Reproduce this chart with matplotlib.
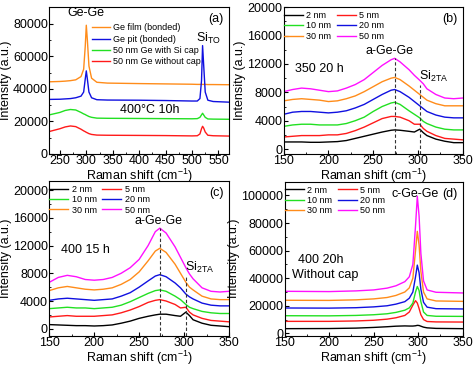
import matplotlib
matplotlib.use("Agg")
import matplotlib.pyplot as plt
from matplotlib.ticker import MultipleLocator

plt.rcParams['font.family'] = ['Liberation Sans', 'DejaVu Sans']
plt.rcParams['mathtext.fontset'] = 'custom'
plt.rcParams['mathtext.rm'] = 'Liberation Sans'
plt.rcParams['mathtext.it'] = 'Liberation Sans'
plt.rcParams['mathtext.default'] = 'regular'

# ---------------- data ----------------
# panel (a)
xa = [230, 250, 260, 270, 280, 290, 295, 298, 300, 302, 305, 310, 320, 340, 400,
      450, 500, 510, 515, 518, 520, 522, 525, 530, 540, 570]
a_film = [44300, 44500, 44700, 45000, 45500, 47500, 52000, 66000, 79000, 70000, 54000,
          46500, 44000, 43500, 43200, 43000, 42800, 42700, 42700, 42700, 42700, 42700,
          42700, 42600, 42600, 42500]
a_pit = [33500, 33600, 33800, 34000, 34500, 35500, 38000, 46000, 51000, 46000, 38000,
         34500, 33300, 33100, 33000, 32800, 32500, 32500, 34000, 45000, 66500, 55000,
         38000, 33000, 32200, 31800]
a_cap = [24000, 25500, 26700, 27300, 27000, 25500, 24600, 24200, 23800, 23500, 23000,
         22500, 22000, 21900, 21800, 21700, 21600, 21700, 22500, 24000, 25000, 24000,
         22500, 21500, 21400, 21300]
a_nocap = [13800, 15500, 16600, 17200, 16800, 15200, 14200, 13700, 13300, 13000, 12500,
           12000, 11600, 11500, 11400, 11300, 11100, 11200, 12300, 15500, 17000, 16000,
           13500, 11500, 11200, 11000]
a_labels = ['Ge film (bonded)', 'Ge pit (bonded)', '50 nm Ge with Si cap',
            '50 nm Ge without cap']

# panel (b)
xb = [150, 160, 170, 180, 190, 200, 210, 220, 230, 240, 250, 260, 270, 274, 280, 290,
      296, 302, 306, 310, 320, 330, 340, 350]
b_2 = [1000, 1000, 1000, 950, 950, 1000, 1050, 1200, 1500, 1800, 2100, 2400, 2650, 2700,
       2650, 2500, 2400, 2800, 2300, 1900, 1400, 1100, 900, 900]
b_5 = [1700, 1800, 1900, 1900, 1900, 2000, 2000, 2200, 2600, 3100, 3700, 4300, 4600, 4600,
       4500, 4000, 3500, 3500, 2900, 2500, 1900, 1500, 1400, 1300]
b_10 = [3200, 3400, 3500, 3500, 3400, 3400, 3400, 3600, 4000, 4500, 5300, 6000, 6500, 6600,
        6300, 5400, 4900, 4400, 3900, 3600, 3100, 2800, 2700, 2700]
b_20 = [4900, 5200, 5300, 5300, 5200, 5100, 5200, 5400, 5800, 6300, 7000, 7700, 8300, 8400,
        8100, 7300, 6700, 6100, 5700, 5300, 4800, 4500, 4400, 4400]
b_30 = [6800, 7000, 7100, 7000, 6900, 6700, 6800, 7100, 7500, 8100, 8800, 9500, 10000, 10100,
        9800, 8900, 8300, 7700, 7300, 6900, 6400, 6100, 6100, 6100]
b_50 = [8100, 8400, 8600, 8500, 8300, 8100, 8200, 8600, 9100, 9800, 10800, 11800, 12600,
        12800, 12300, 11200, 10400, 9700, 9200, 8500, 7700, 7200, 7100, 7200]

# panel (c)
xc = [150, 160, 170, 180, 190, 200, 210, 220, 230, 240, 250, 260, 268, 273, 280, 290,
      296, 302, 306, 310, 320, 330, 340, 350]
c_2 = [600, 550, 500, 450, 450, 400, 450, 550, 800, 1100, 1500, 1800, 2000, 2100, 2100, 1900,
       1800, 2400, 1900, 1300, 800, 500, 400, 300]
c_5 = [1700, 1800, 1900, 1800, 1800, 1800, 1900, 2000, 2300, 2700, 3200, 3800, 4100, 4200,
       4000, 3500, 3000, 3100, 2400, 2000, 1500, 1200, 1100, 1000]
c_10 = [2900, 3000, 3100, 3000, 3000, 2900, 3000, 3100, 3400, 3900, 4500, 5100, 5500, 5600,
        5400, 4700, 4200, 3500, 3100, 2900, 2500, 2300, 2200, 2200]
c_20 = [4100, 4300, 4400, 4300, 4200, 4100, 4200, 4300, 4700, 5200, 6000, 6900, 7600, 7800,
        7500, 6600, 5900, 5000, 4600, 4300, 3700, 3400, 3300, 3300]
c_30 = [5500, 5900, 6100, 5900, 5700, 5600, 5700, 5900, 6400, 7100, 8200, 9800, 11200, 11600,
        11000, 9300, 8000, 6700, 6000, 5600, 4700, 4300, 4200, 4200]
c_50 = [6700, 7400, 7700, 7500, 7100, 7000, 7100, 7400, 8000, 8800, 10000, 12000, 14000,
        14500, 13800, 11800, 10300, 8800, 7900, 7200, 5900, 5400, 5300, 5400]

# panel (d)
xd = [150, 200, 230, 250, 265, 275, 285, 290, 294, 297, 299, 301, 303, 306, 310, 320, 350]
d_2 = [3400, 3500, 3800, 4300, 4800, 5200, 5400, 5300, 5300, 5500, 5800, 5700, 5200, 4500,
       4000, 3600, 3400]
d_5 = [8700, 8700, 9000, 9500, 10300, 11300, 13000, 15500, 20500, 23700, 22000, 18000,
       13500, 10000, 8600, 8300, 8200]
d_10 = [12800, 12700, 13000, 13500, 14200, 15200, 16800, 18500, 22000, 30000, 34000, 31000,
        23000, 15500, 13000, 12400, 12300]
d_20 = [18400, 18300, 18600, 19200, 20000, 21200, 23000, 25500, 30000, 41000, 49500, 44000,
        32000, 22500, 19000, 17900, 17700]
d_30 = [24000, 23900, 24300, 25000, 26000, 27500, 30000, 33000, 40000, 60000, 74000, 64000,
        45000, 30000, 25000, 23500, 23200]
d_50 = [30500, 30300, 30800, 31500, 32800, 34500, 37500, 41000, 50000, 78000, 99500, 85000,
        58000, 38000, 31500, 29800, 29300]

thick_labels = ['2 nm', '5 nm', '10 nm', '20 nm', '30 nm', '50 nm']

# ---------------- style ----------------
C_BLACK = '#000000'
C_RED = '#ff1a1a'
C_GREEN = '#22e022'
C_BLUE = '#1010e0'
C_ORANGE = '#ff8c1a'
C_MAG = '#ff10ff'
thick_colors = [C_BLACK, C_RED, C_GREEN, C_BLUE, C_ORANGE, C_MAG]

W, H = 474, 366
fig = plt.figure(figsize=(W / 100, H / 100), dpi=100)


def box(l, r, t, b):
    return [l / W, (H - b) / H, (r - l) / W, (b - t) / H]


axa = fig.add_axes(box(49.3, 229, 7.3, 154))
axb = fig.add_axes(box(283.7, 462.7, 7.3, 154))
axc = fig.add_axes(box(49.3, 229, 181, 335.7))
axd = fig.add_axes(box(284.7, 462.7, 181.7, 335.7))

LW = 1.0
FS = 9
LFS = 6.5
DASH = dict(colors='#333333', linestyles=(0, (3, 2)), lw=0.8)


def style(ax, xmaj, xmin, ymaj, ymin):
    ax.xaxis.set_major_locator(MultipleLocator(xmaj))
    ax.xaxis.set_minor_locator(MultipleLocator(xmin))
    ax.yaxis.set_major_locator(MultipleLocator(ymaj))
    ax.yaxis.set_minor_locator(MultipleLocator(ymin))
    ax.tick_params(which='both', direction='in', labelsize=FS, pad=1)
    ax.tick_params(which='major', length=3, width=0.8)
    ax.tick_params(which='minor', length=1.5, width=0.6)
    for s in ax.spines.values():
        s.set_linewidth(0.8)
    ax.set_xlabel('Raman shift (cm$^{-1}$)', fontsize=FS, labelpad=-0.3)
    ax.set_ylabel('Intensity (a.u.)', fontsize=FS, labelpad=1)


# panel (a)
for y, c, lab in zip([a_film, a_pit, a_cap, a_nocap], [C_ORANGE, C_BLUE, C_GREEN, C_RED],
                     a_labels):
    axa.plot(xa, y, color=c, lw=LW, label=lab)
axa.set_xlim(230, 570)
axa.set_ylim(0, 90000)
style(axa, 50, 25, 20000, 10000)
axa.legend(loc='upper left', bbox_to_anchor=(0.235, 0.89), frameon=False, fontsize=LFS,
           handlelength=2.0, handletextpad=0.4, labelspacing=0.25, borderpad=0,
           borderaxespad=0)
axa.text(300, 83000, 'Ge-Ge', fontsize=FS, ha='center', va='bottom')
axa.text(507, 66000, 'Si$_{TO}$', fontsize=FS, ha='left', va='bottom')
axa.text(420, 27000, '400°C 10h', fontsize=FS, ha='center', va='center')
axa.text(0.97, 0.96, '(a)', transform=axa.transAxes, fontsize=FS, ha='right', va='top')


def thick_panel(ax, x, ys, ylim, ymaj, ymin):
    for y, c, lab in zip(ys, thick_colors, thick_labels):
        ax.plot(x, y, color=c, lw=LW, label=lab)
    ax.set_xlim(150, 350)
    ax.set_ylim(*ylim)
    style(ax, 50, 25, ymaj, ymin)
    h, l = ax.get_legend_handles_labels()
    order = [0, 2, 4, 1, 3, 5]
    ax.legend([h[i] for i in order], [l[i] for i in order],
              loc='upper left', bbox_to_anchor=(0.0, 0.975), frameon=False, fontsize=LFS,
              ncol=2, handlelength=2.1, handletextpad=0.4, labelspacing=0.15,
              columnspacing=0.6, borderpad=0, borderaxespad=0)


thick_panel(axb, xb, [b_2, b_5, b_10, b_20, b_30, b_50], (-700, 20000), 4000, 2000)
axb.vlines(274, -700, 12800, **DASH)
axb.vlines(302, -700, 9000, **DASH)
axb.text(268, 13800, 'a-Ge-Ge', fontsize=FS, ha='center', va='center')
axb.text(301, 10200, 'Si$_{2TA}$', fontsize=FS, ha='left', va='center')
axb.text(190, 11300, '350 20 h', fontsize=FS, ha='center', va='center')
axb.text(0.97, 0.96, '(b)', transform=axb.transAxes, fontsize=FS, ha='right', va='top')

thick_panel(axc, xc, [c_2, c_5, c_10, c_20, c_30, c_50], (-1000, 21300), 4000, 2000)
axc.vlines(273, -1000, 14500, **DASH)
axc.vlines(302, -1000, 7800, **DASH)
axc.text(271, 15600, 'a-Ge-Ge', fontsize=FS, ha='center', va='center')
axc.text(301, 8900, 'Si$_{2TA}$', fontsize=FS, ha='left', va='center')
axc.text(190, 11300, '400 15 h', fontsize=FS, ha='center', va='center')
axc.text(0.97, 0.96, '(c)', transform=axc.transAxes, fontsize=FS, ha='right', va='top')

thick_panel(axd, xd, [d_2, d_5, d_10, d_20, d_30, d_50], (-1700, 110000), 20000, 10000)
axd.text(0.73, 0.96, 'c-Ge-Ge', transform=axd.transAxes, fontsize=FS, ha='center', va='top')
axd.text(0.97, 0.96, '(d)', transform=axd.transAxes, fontsize=FS, ha='right', va='top')
axd.text(190, 53000, '400 20h', fontsize=FS, ha='center', va='center')
axd.text(196, 42400, 'Without cap', fontsize=FS, ha='center', va='center')

fig.savefig('out.png', dpi=100)
